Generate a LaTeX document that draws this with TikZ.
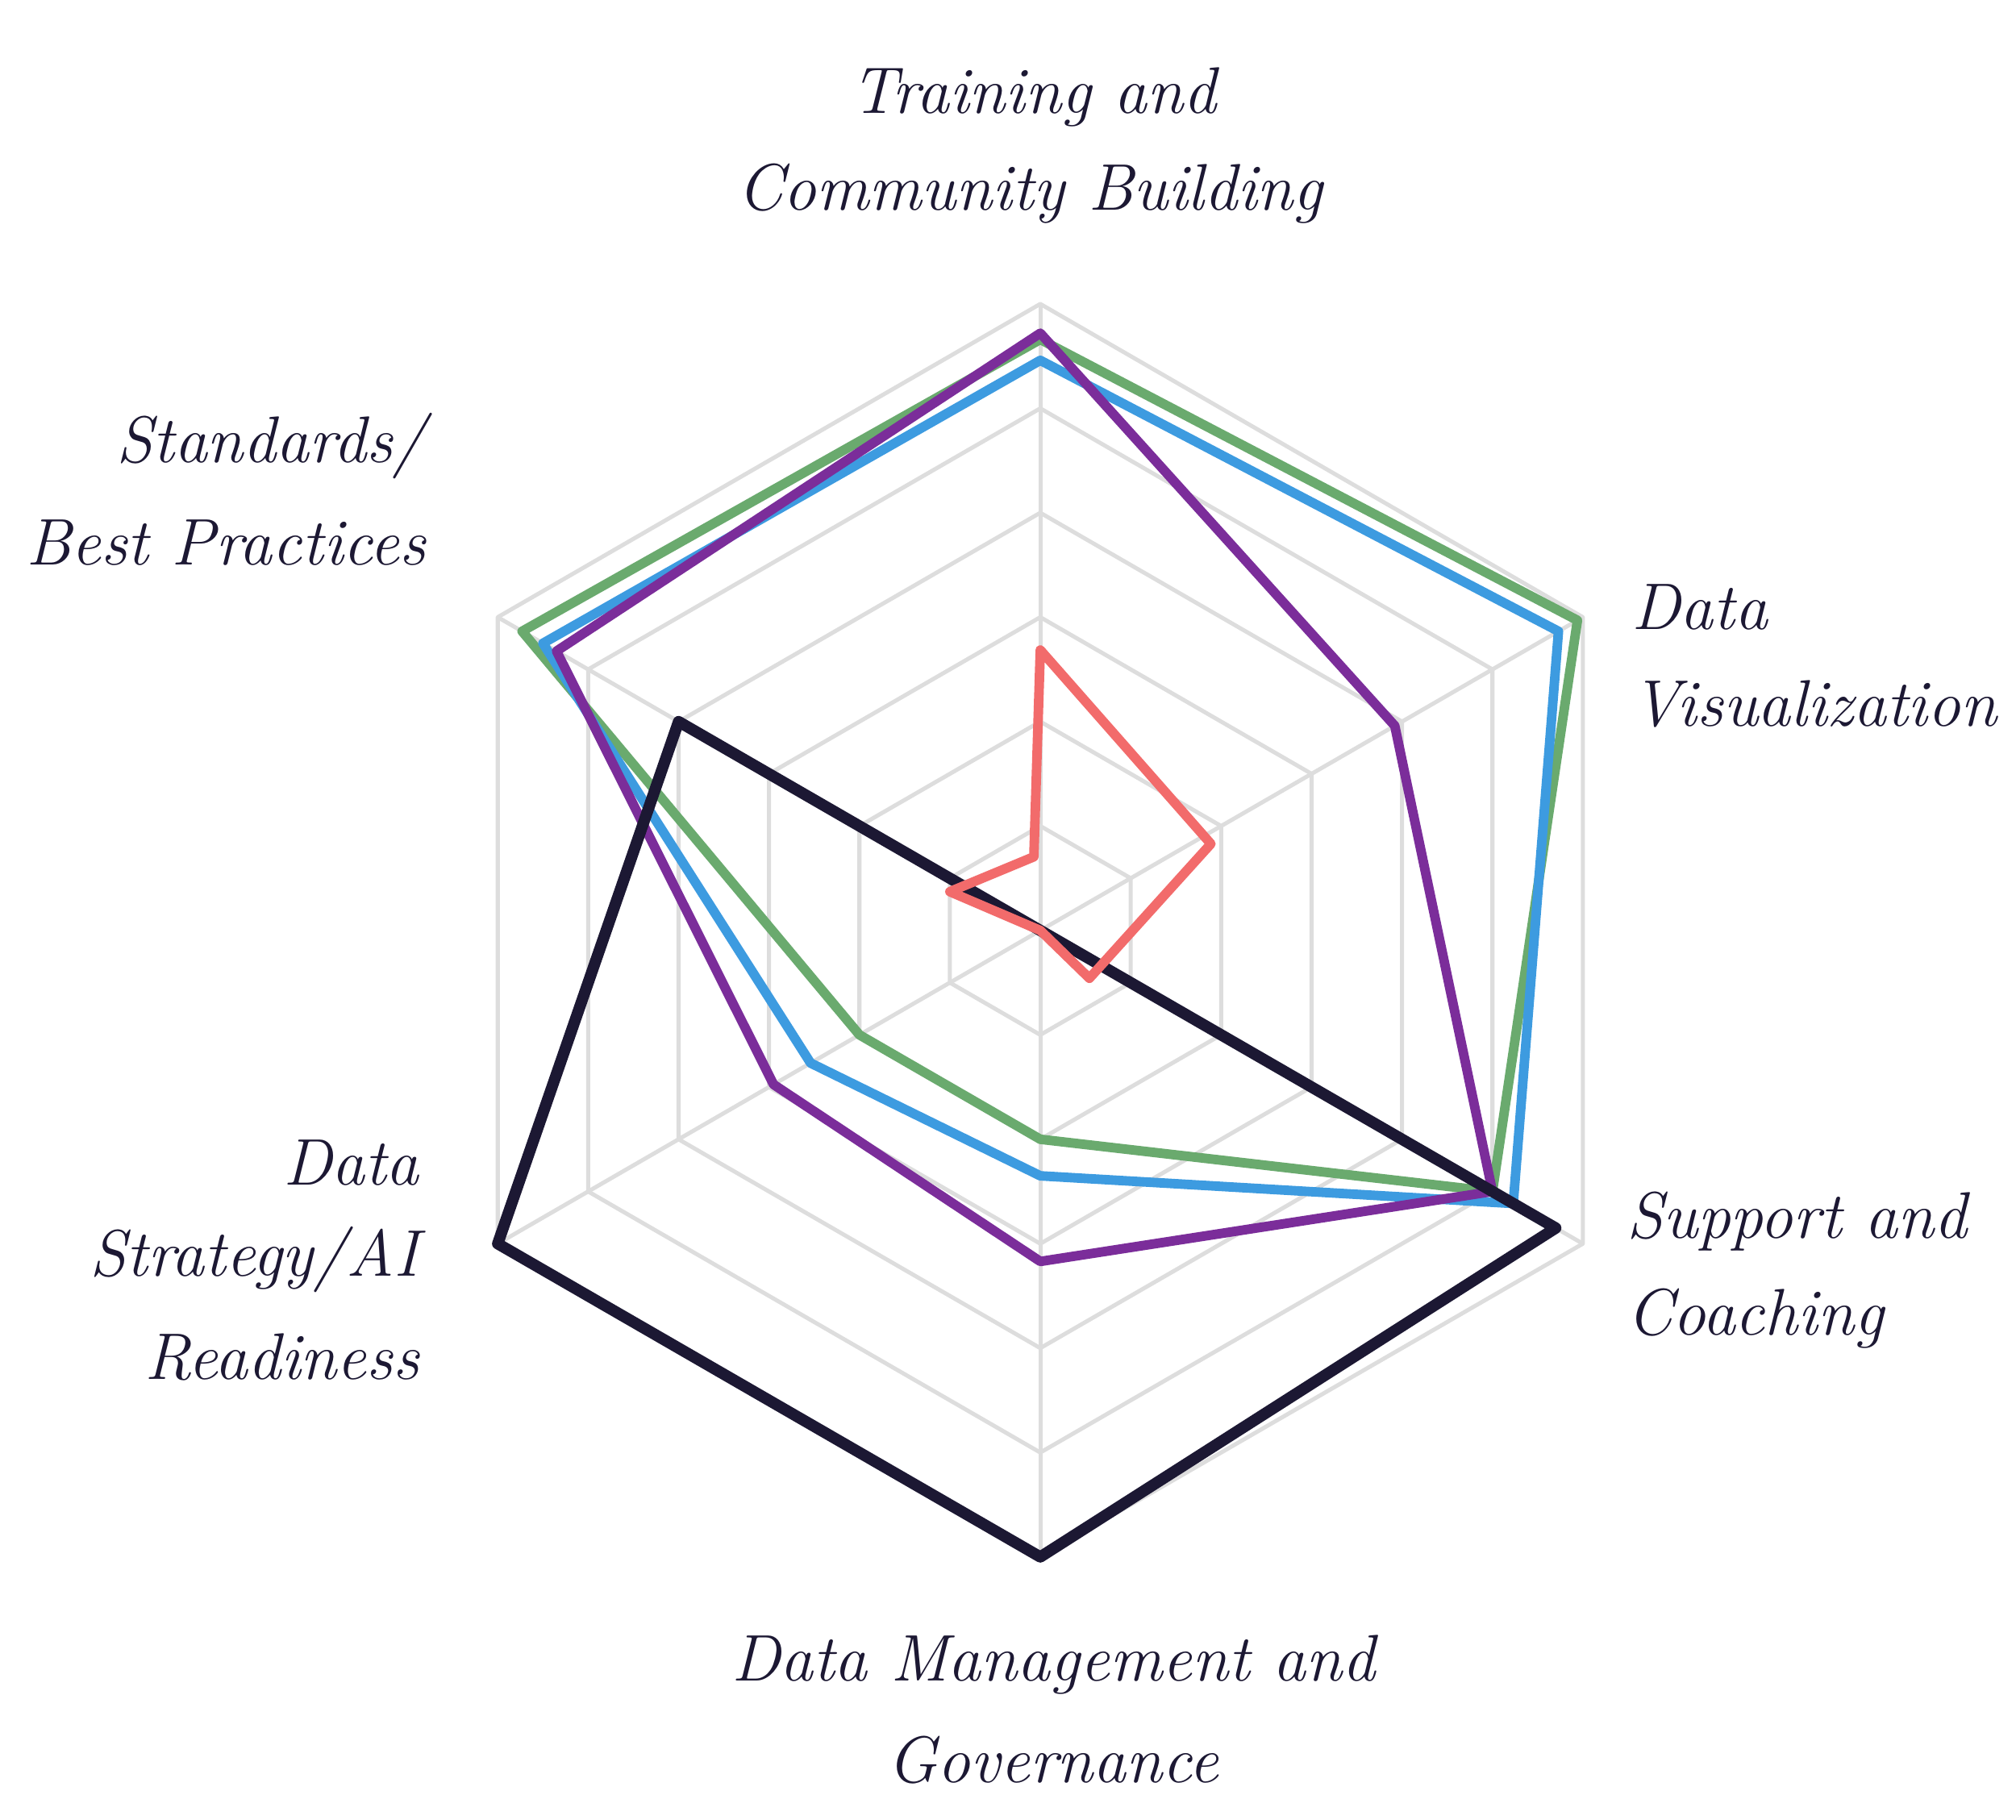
\documentclass[tikz,border=0pt]{standalone}
\usetikzlibrary{calc}
\definecolor{ink}{HTML}{1C1833}
\definecolor{gridc}{HTML}{DDDDDD}
\definecolor{sgreen}{HTML}{6AAA6E}
\definecolor{sblue}{HTML}{3D9BE0}
\definecolor{spurple}{HTML}{7B2D9A}
\definecolor{sred}{HTML}{F26B6B}
\tikzset{
  gridline/.style={draw=gridc, line width=0.9pt, line join=round},
  series/.style={line width=2.1pt, line join=round},
  lab/.style={text=ink, font=\fontsize{14.5}{20}\selectfont\itshape, inner sep=0pt}
}
\newcommand{\R}{80.8}
\begin{document}
\begin{tikzpicture}[x=0.01cm,y=0.01cm]
\useasboundingbox (-805,-688) rectangle (755,720);
\coordinate (O) at (0,0);
% grid
\foreach \k in {1,...,6}{
  \draw[gridline] (90:{\k*\R}) -- (30:{\k*\R}) -- (-30:{\k*\R}) -- (-90:{\k*\R}) -- (210:{\k*\R}) -- (150:{\k*\R}) -- cycle;
}
\foreach \a in {90,30,-30,-90,210,150}{
  \draw[gridline] (O) -- (\a:{6*\R});
}
% series
\draw[series, sgreen] (90:{5.66*\R}) -- (30:{5.94*\R}) -- (-30:{5.0*\R}) -- (-90:{2.0*\R}) -- (210:{2.0*\R}) -- (150:{5.73*\R}) -- cycle;
\draw[series, sblue] (90:{5.46*\R}) -- (30:{5.73*\R}) -- (-30:{5.23*\R}) -- (-90:{2.35*\R}) -- (210:{2.54*\R}) -- (150:{5.5*\R}) -- cycle;
\draw[series, spurple] (90:{5.72*\R}) -- (30:{3.92*\R}) -- (-30:{5.0*\R}) -- (-90:{3.17*\R}) -- (210:{2.95*\R}) -- (150:{5.35*\R}) -- cycle;
\draw[series, ink, line width=2.5pt] (O) -- (-30:{5.7*\R}) -- (-90:{6.0*\R}) -- (210:{6.0*\R}) -- (150:{4.0*\R}) -- cycle;
\draw[series, sred] (0,217) -- (132,67) -- (38,-37) -- (O) -- (-70,30) -- (-5,57) -- cycle;
% labels
\node[lab] (t1) at (-5,645) {Training and};
\node[lab] (t2) at (-8,570) {Community Building};
\node[lab, anchor=west] (v1) at (457,250) {Data};
\node[lab, anchor=west] (v2) at (457,175) {Visualization};
\node[lab, anchor=west] (s1) at (453,-225) {Support and};
\node[lab, anchor=west] (s2) at (453,-300) {Coaching};
\node[lab] (m1) at (10,-568) {Data Management and};
\node[lab] (m2) at (10,-642) {Governance};
\node[lab, anchor=east] (d1) at (-480,-180) {Data};
\node[lab, anchor=east] (d2) at (-480,-255) {Strategy/AI};
\node[lab, anchor=east] (d3) at (-480,-330) {Readiness};
\node[lab, anchor=east] (b1) at (-475,375) {Standards/};
\node[lab, anchor=east] (b2) at (-475,300) {Best Practices};
\end{tikzpicture}
\end{document}
